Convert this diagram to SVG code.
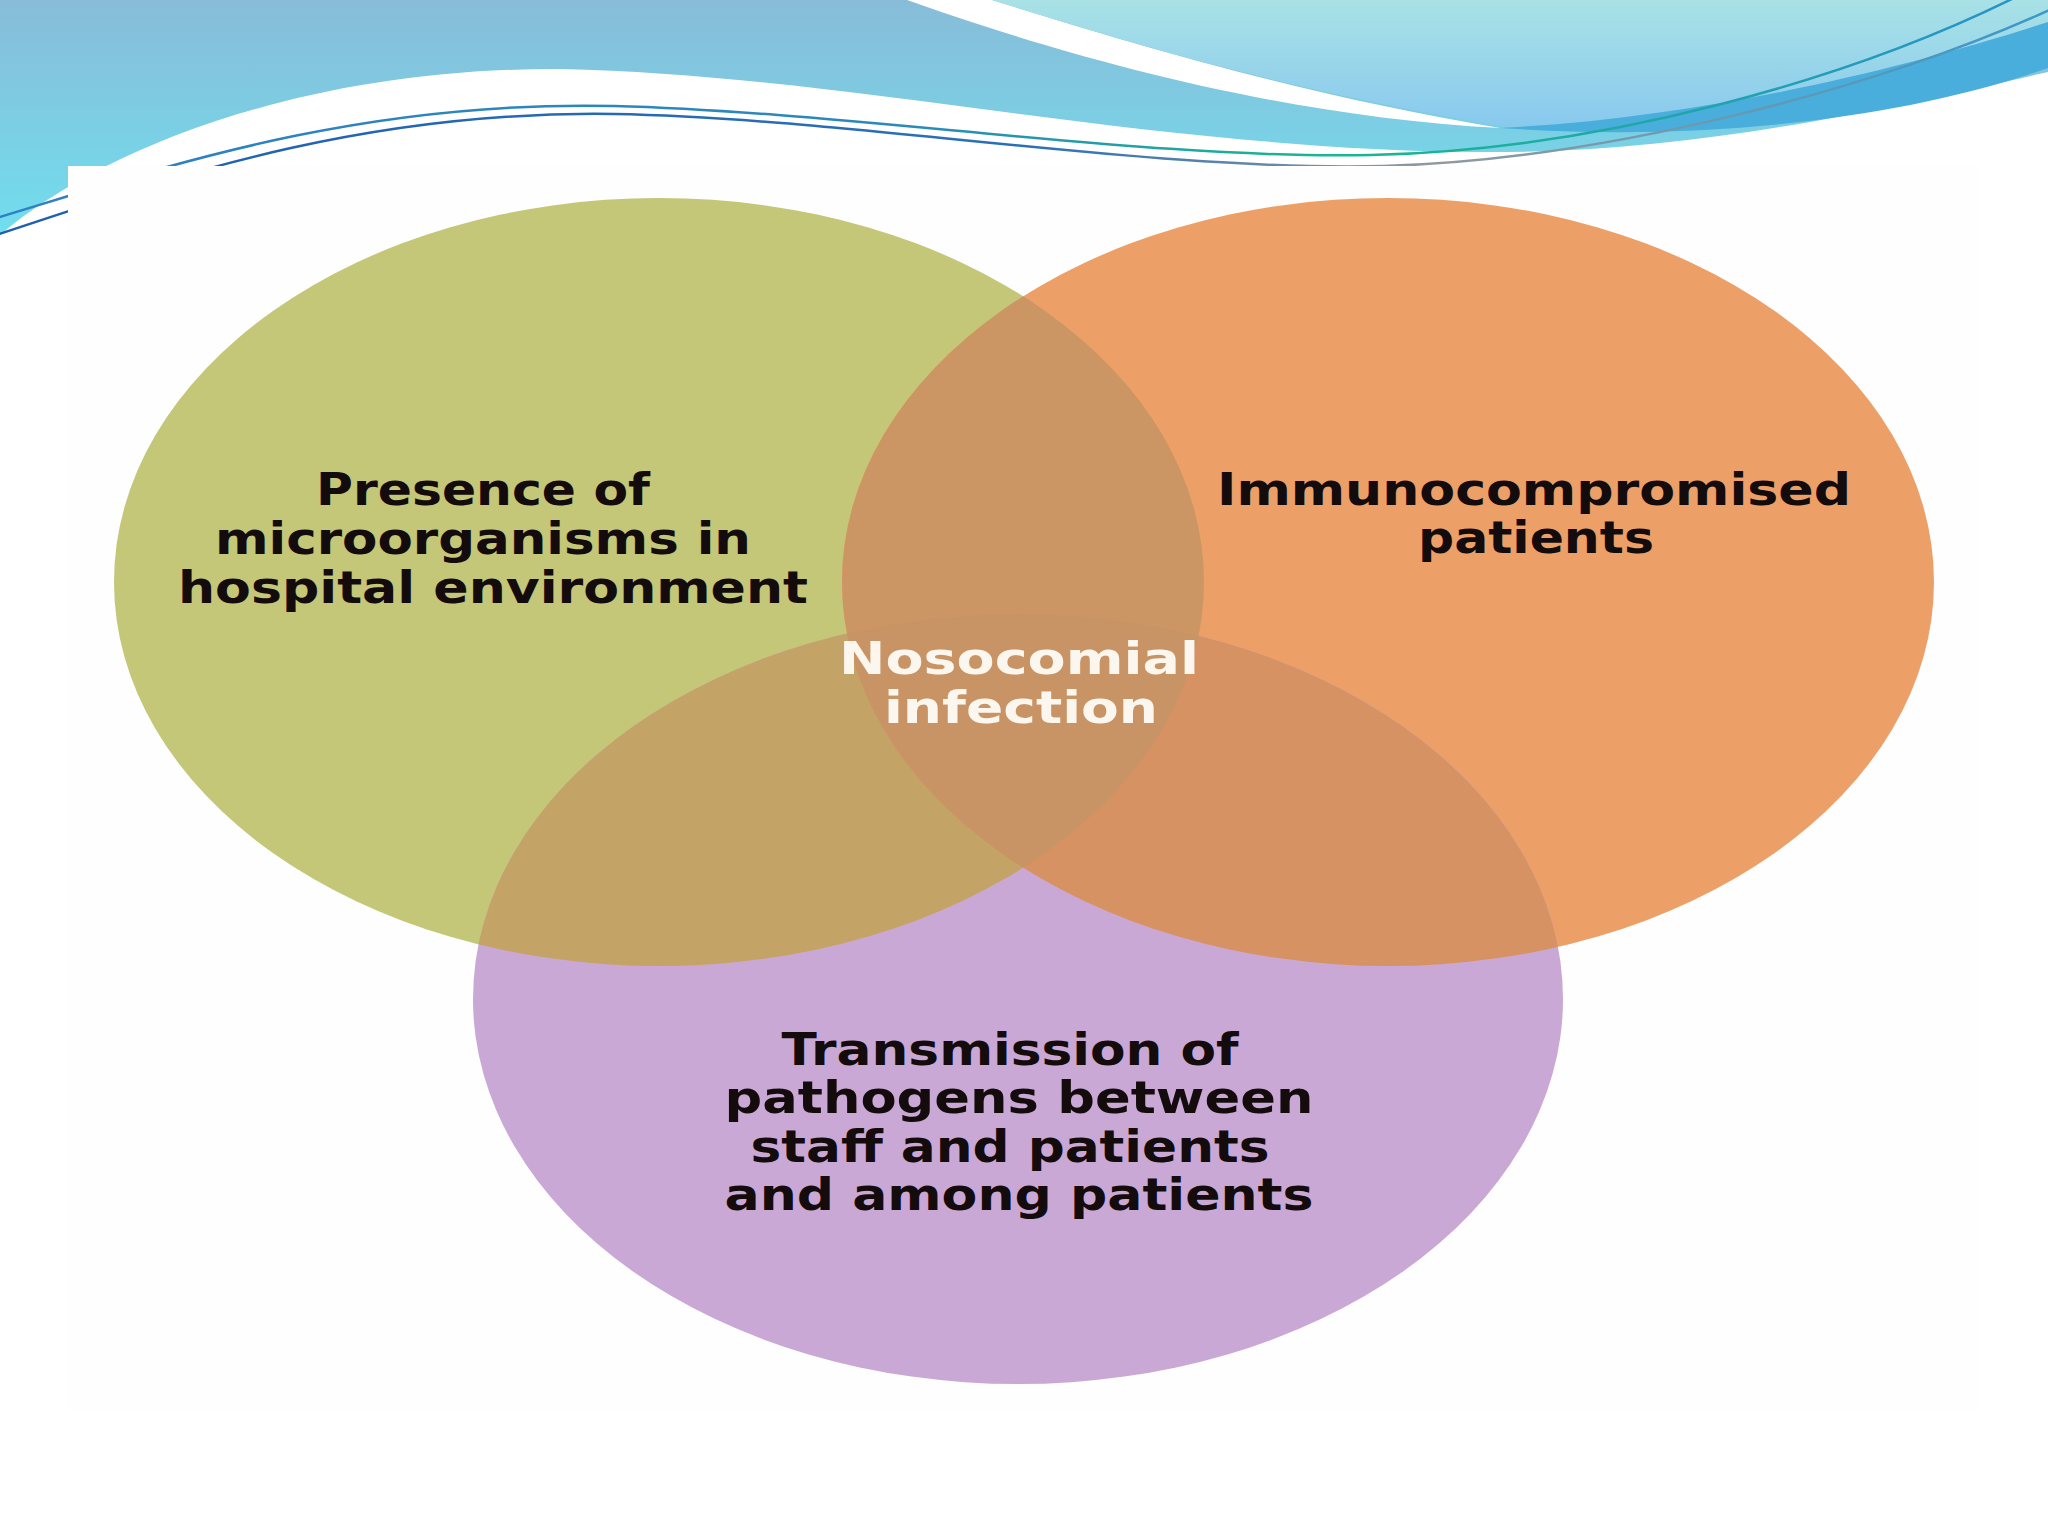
<svg xmlns="http://www.w3.org/2000/svg" width="2048" height="1536" viewBox="0 0 2048 1536">
<defs>
<linearGradient id="banner" x1="0" y1="0" x2="0" y2="260" gradientUnits="userSpaceOnUse">
<stop offset="0" stop-color="#88bcd8"/>
<stop offset="1" stop-color="#6ee2f0"/>
</linearGradient>
<linearGradient id="light" x1="0" y1="0" x2="0" y2="130" gradientUnits="userSpaceOnUse">
<stop offset="0" stop-color="#a8e2e6"/>
<stop offset="1" stop-color="#88c8ee"/>
</linearGradient>
<linearGradient id="lineA" x1="0" y1="0" x2="2048" y2="0" gradientUnits="userSpaceOnUse">
<stop offset="0" stop-color="#2f7fc4"/>
<stop offset="0.45" stop-color="#2a8ab8"/>
<stop offset="0.65" stop-color="#18b890"/>
<stop offset="1" stop-color="#2a90c8"/>
</linearGradient>
<linearGradient id="lineB" x1="0" y1="0" x2="2048" y2="0" gradientUnits="userSpaceOnUse">
<stop offset="0" stop-color="#1f5fb0"/>
<stop offset="0.5" stop-color="#2a70b8"/>
<stop offset="0.7" stop-color="#909aa0"/>
<stop offset="1" stop-color="#3a98c8"/>
</linearGradient>
<clipPath id="cg"><ellipse cx="659" cy="582" rx="545" ry="384"/></clipPath>
<clipPath id="co"><ellipse cx="1388" cy="582" rx="546" ry="384"/></clipPath>
</defs>
<style>
.lbl{font-family:"DejaVu Sans","Liberation Sans",sans-serif;font-weight:bold;font-size:44px;fill:#140c0c;text-anchor:middle}
.ctr{font-family:"DejaVu Sans","Liberation Sans",sans-serif;font-weight:bold;font-size:44px;fill:#fbf6ee;text-anchor:middle}
.thin{fill:none;stroke-width:2.5}
</style>
<rect width="2048" height="1536" fill="#ffffff"/>
<g id="banner-decoration">
<rect x="0" y="0" width="2048" height="300" fill="url(#banner)"/>
<path d="M0,235 C100,150 300,68 561,69 C850,75 1150,150 1480,152 C1700,154 1900,105 2048,72 L2048,1536 L0,1536 Z" fill="#ffffff"/>
<path d="M907,0 C1020,40 1250,115 1500,128 C1300,95 1120,40 992,0 Z" fill="#ffffff"/>
<path d="M992,0 C1120,40 1300,95 1510,127 C1700,118 1900,70 2048,25 L2048,0 Z" fill="url(#light)"/>
<path d="M1500,128 C1700,118 1900,70 2048,22 L2048,68 C1900,120 1700,142 1500,128 Z" fill="#4aaedc"/>
<path class="thin" stroke="url(#lineA)" d="M-10,220 C150,172 350,100 614,106 C850,112 1150,160 1371,155 C1600,150 1850,80 2020,-5"/>
<path class="thin" stroke="url(#lineB)" d="M-10,237 C150,185 350,110 614,114 C850,118 1150,172 1384,166 C1600,160 1880,90 2060,5"/>
</g>
<rect id="panel" x="68" y="166" width="1911" height="1244" fill="#fefefe"/>
<g id="node-green">
<ellipse cx="659" cy="582" rx="545" ry="384" fill="#c4c678"/>
</g>
<g id="node-orange">
<ellipse cx="1388" cy="582" rx="546" ry="384" fill="#eca068"/>
</g>
<g id="node-purple">
<ellipse cx="1018" cy="999" rx="545" ry="385" fill="#caa8d5"/>
</g>
<g id="overlaps">
<ellipse cx="1388" cy="582" rx="546" ry="384" fill="#cb9663" clip-path="url(#cg)"/>
<ellipse cx="1018" cy="999" rx="545" ry="385" fill="#c4a466" clip-path="url(#cg)"/>
<ellipse cx="1018" cy="999" rx="545" ry="385" fill="#d79264" clip-path="url(#co)"/>
<g clip-path="url(#cg)"><ellipse cx="1018" cy="999" rx="545" ry="385" fill="#c99465" clip-path="url(#co)"/></g>
</g>
<g id="label-green">
<text class="lbl" x="483" y="505" textLength="334" lengthAdjust="spacingAndGlyphs">Presence of</text>
<text class="lbl" x="483" y="554" textLength="536" lengthAdjust="spacingAndGlyphs">microorganisms in</text>
<text class="lbl" x="493" y="603" textLength="630" lengthAdjust="spacingAndGlyphs">hospital environment</text>
</g>
<g id="label-orange">
<text class="lbl" x="1534" y="505" textLength="634" lengthAdjust="spacingAndGlyphs">Immunocompromised</text>
<text class="lbl" x="1536" y="553" textLength="236" lengthAdjust="spacingAndGlyphs">patients</text>
</g>
<g id="node-center">
<text class="ctr" x="1019" y="674" textLength="360" lengthAdjust="spacingAndGlyphs">Nosocomial</text>
<text class="ctr" x="1021" y="723" textLength="274" lengthAdjust="spacingAndGlyphs">infection</text>
</g>
<g id="label-purple">
<text class="lbl" x="1010" y="1065" textLength="457" lengthAdjust="spacingAndGlyphs">Transmission of</text>
<text class="lbl" x="1019" y="1113" textLength="589" lengthAdjust="spacingAndGlyphs">pathogens between</text>
<text class="lbl" x="1010" y="1162" textLength="519" lengthAdjust="spacingAndGlyphs">staff and patients</text>
<text class="lbl" x="1019" y="1210" textLength="589" lengthAdjust="spacingAndGlyphs">and among patients</text>
</g>
</svg>
